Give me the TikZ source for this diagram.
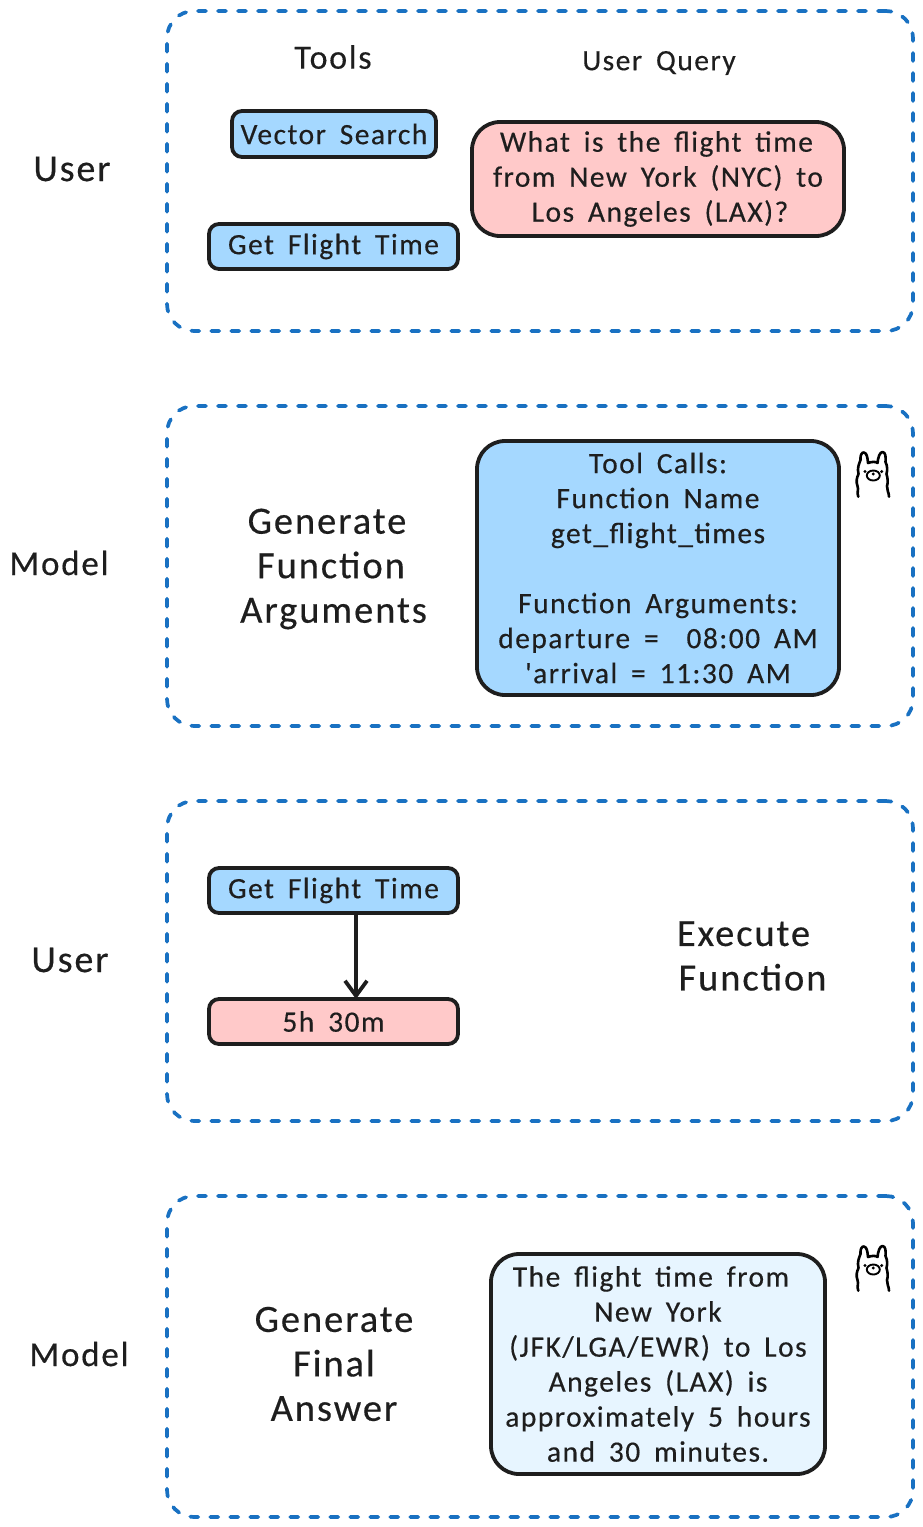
\documentclass[tikz,border=0pt]{standalone}
\usepackage{fontspec}
\usetikzlibrary{arrows.meta}
\newfontfamily\hand[LetterSpace=5,WordSpace=1.7,FakeBold=0.35]{Carlito}
\definecolor{ink}{HTML}{1E1E1E}
\definecolor{dashblue}{HTML}{1971C2}
\definecolor{toolblue}{HTML}{A5D8FF}
\definecolor{querypink}{HTML}{FFC9C9}
\definecolor{paleblue}{HTML}{E7F5FF}
\tikzset{
  panel/.style={draw=dashblue,line width=3.7pt,dash pattern=on 8pt off 12pt,line cap=round,rounded corners=27pt,minimum width=746pt,minimum height=320pt,inner sep=0pt,outer sep=0pt},
  tinybox/.style={draw=ink,line width=3.8pt,rounded corners=10pt,inner sep=0pt,outer sep=0pt,text=ink,font=\hand\fontsize{29.5}{35}\selectfont,align=center},
  bigbox/.style={tinybox,rounded corners=28pt},
  small/.style={text=ink,inner sep=0pt,font=\hand\fontsize{29.5}{35}\selectfont,align=center},
  big/.style={text=ink,inner sep=0pt,font=\hand\fontsize{38.5}{44.5}\selectfont,align=center},
  who/.style={text=ink,inner sep=0pt,font=\hand\fontsize{35}{44}\selectfont,align=center},
  llama/.pic={
    \draw[black,line width=2.6pt,line join=round,line cap=round,fill=white]
      (18.3,56.7) .. controls (16.5,52) and (19,50) .. (17.5,46) .. controls (16,42) and (16.5,38) .. (18.5,34)
      .. controls (17,28) and (19,24) .. (20.5,20) .. controls (20,15) and (22,12) .. (24,12.5)
      .. controls (27,13) and (27.5,18) .. (28,23) .. controls (32,21.5) and (36,21.5) .. (37.5,23)
      .. controls (38,17) and (40,12) .. (42.5,12) .. controls (45.5,12) and (46,17) .. (45.5,22)
      .. controls (47.5,26) and (47.5,30) .. (46.5,34) .. controls (48,39) and (48,43) .. (47,46)
      .. controls (46.5,50) and (49,52) .. (49,56.7);
    \draw[black,line width=1.9pt] (33.3,35.5) ellipse (6.5pt and 5pt);
    \fill[black] (25,31.5) circle (1.7pt) (41.7,31.5) circle (1.7pt) (33.3,34) circle (1.6pt);
  }
}
\begin{document}
\begin{tikzpicture}[x=1pt,y=1pt]
\useasboundingbox (0,0) rectangle (922,-1527);
\node[panel] (p1) at (540,-171) {};
\node[panel] (p2) at (540,-566) {};
\node[panel] (p3) at (540,-961) {};
\node[panel,minimum height=321pt] (p4) at (540,-1356.5) {};

\node[who] (u1) at (72,-169) {\fontsize{38}{44}\selectfont User};
\node[who] (m1) at (59,-563) {Model};
\node[who] (u2) at (70,-960) {\fontsize{38}{44}\selectfont User};
\node[who] (m2) at (79,-1354) {Model};

\node[small] (tools) at (333,-57) {\fontsize{34}{35}\selectfont Tools};
\node[small] (uq) at (659,-63) {User Query};
\node[tinybox,fill=toolblue,minimum width=204pt,minimum height=46pt] (vs) at (334,-134) {Vector Search};
\node[tinybox,fill=toolblue,minimum width=249pt,minimum height=45pt] (gf1) at (333.5,-246.5) {Get Flight Time};
\node[bigbox,fill=querypink,minimum width=372pt,minimum height=114pt] (q) at (658,-179) {What is the flight time\hspace*{3pt}\\from New York (NYC) to\hspace*{8pt}\\\hspace*{4pt}Los Angeles (LAX)?};

\node[big] (gen) at (331,-569) {Generate\hspace*{8pt}\\Function\hspace*{8pt}\\\hspace*{5pt}Arguments};
\node[bigbox,fill=toolblue,minimum width=362pt,minimum height=254pt] (tc) at (658,-568) {Tool Calls:\\Function Name\\get\_flight\_times\\[35pt]Function Arguments:\\departure =\hspace{14pt} 08:00 AM\hspace*{16pt}\\\hspace*{4pt}'arrival = 11:30 AM\hspace*{4pt}};
\pic at (840,-440) [yscale=-1] {llama};

\node[tinybox,fill=toolblue,minimum width=249pt,minimum height=45pt] (gf2) at (333.5,-890.5) {Get Flight Time};
\node[tinybox,fill=querypink,minimum width=249pt,minimum height=45pt] (res) at (333.5,-1021.5) {5h 30m};
\draw[ink,line width=3.8pt,-{Straight Barb[length=15pt,width=22pt,line width=3.8pt]}] ([xshift=22.5]gf2.south) -- ([xshift=22.5]res.north);
\node[big] (ex) at (748,-956) {Execute\hspace*{9pt}\\\hspace*{9pt}Function};

\node[big] (fin) at (334,-1364) {Generate\\Final\hspace*{18pt}\\Answer};
\node[bigbox,fill=paleblue,minimum width=334pt,minimum height=220pt] (ans) at (658,-1364) {The flight time from\hspace*{14pt}\\New York\hspace*{14pt}\\(JFK/LGA/EWR) to Los\\Angeles (LAX) is\hspace*{14pt}\\approximately 5 hours\hspace*{14pt}\\and 30 minutes.};
\pic at (840,-1234) [yscale=-1] {llama};
\end{tikzpicture}
\end{document}
